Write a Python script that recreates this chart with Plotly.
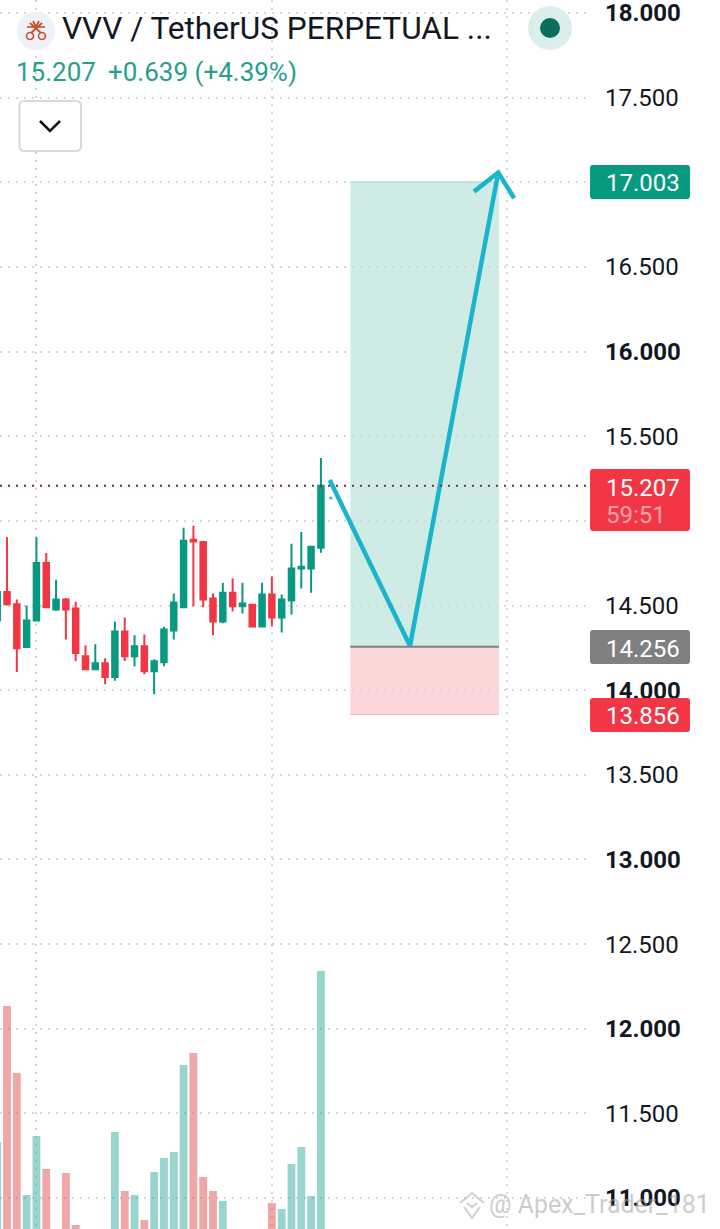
"""VVV / USDT perpetual chart with a long position box and a drawn path."""
import plotly.graph_objects as go

W, H = 720, 1229
PLOT_RIGHT = 590

GREEN = "#089981"
RED = "#F23645"
CYAN = "#1AB5CC"
GRID = "#d6d6d6"

# candles, oldest first
bars = list(range(-1, 33))
opens = [14.412, 14.580, 14.508, 14.255, 14.412, 14.751, 14.476, 14.535, 14.482, 14.200,
         14.124, 14.159, 14.078, 14.347, 14.200, 14.259, 14.112, 14.165, 14.353, 14.490,
         14.888, 14.876, 14.541, 14.406, 14.576, 14.496, 14.504, 14.376, 14.565, 14.429,
         14.529, 14.718, 14.718, 14.841]
highs = [14.590, 14.904, 14.535, 14.500, 14.904, 14.810, 14.653, 14.545, 14.522, 14.265,
         14.271, 14.188, 14.406, 14.429, 14.324, 14.329, 14.182, 14.375, 14.571, 14.959,
         14.971, 14.876, 14.571, 14.635, 14.659, 14.635, 14.506, 14.635, 14.671, 14.565,
         14.865, 14.935, 14.847, 15.371]
lows = [14.400, 14.500, 14.108, 14.255, 14.408, 14.490, 14.467, 14.300, 14.173, 14.120,
        14.118, 14.035, 14.055, 14.173, 14.141, 14.094, 13.976, 14.141, 14.300, 14.500,
        14.496, 14.490, 14.324, 14.396, 14.465, 14.453, 14.376, 14.376, 14.376, 14.341,
        14.447, 14.600, 14.576, 14.812]
closes = [14.580, 14.508, 14.247, 14.412, 14.751, 14.490, 14.535, 14.476, 14.220, 14.124,
          14.159, 14.078, 14.347, 14.200, 14.259, 14.112, 14.171, 14.359, 14.518, 14.882,
          14.878, 14.535, 14.406, 14.576, 14.496, 14.512, 14.376, 14.565, 14.429, 14.535,
          14.718, 14.729, 14.847, 15.207]

# only the tops of the volume bars are in view
volumes = [87, 223, 156, 34, 93, 60, 0, 56, 4, 0, 0, 0, 97, 38, 34, 9, 57, 71, 77, 164,
           176, 52, 38, 28, 0, 0, 0, 0, 26, 20, 65, 82, 33, 258]

price_ticks = [18.0, 17.5, 17.0, 16.5, 16.0, 15.5, 15.0, 14.5, 14.0, 13.5, 13.0, 12.5, 12.0, 11.5, 11.0]
hidden_ticks = [17.0, 15.0]  # covered by the price badges
grid_bars = [3, 27, 51]

last_price = 15.207
entry_price = 14.256
target_price = 17.003
stop_price = 13.856
position_start = 35
position_end = 50.15

path_bars = [32.9, 41.08, 50.0]
path_prices = [15.241, 14.261, 17.035]
head_bars = [47.6, 50.08, 51.7]
head_prices = [16.945, 17.058, 16.906]


def px(x):
    return x / W


def py(y):
    return 1 - y / H


def rounded(x0, y0, x1, y1, r=3):
    # rounded box given in page pixels, returned as a paper path
    a, b, c, d = px(x0), py(y0), px(x1), py(y1)
    rx, ry = r / W, r / H
    return (
        f"M{a + rx},{b} L{c - rx},{b} Q{c},{b} {c},{b - ry} L{c},{d + ry} Q{c},{d} {c - rx},{d} "
        f"L{a + rx},{d} Q{a},{d} {a},{d + ry} L{a},{b - ry} Q{a},{b} {a + rx},{b} Z"
    )


def polyline(points):
    return "M" + " L".join(f"{px(x)},{py(y)}" for x, y in points)


def paper_shape(path, fill="rgba(0,0,0,0)", line=None, width=0):
    return dict(
        type="path", path=path, xref="paper", yref="paper", layer="above",
        fillcolor=fill, line=dict(color=line or "rgba(0,0,0,0)", width=width),
    )


def circle(cx, cy, r, fill="rgba(0,0,0,0)", line=None, width=0):
    return dict(
        type="circle", xref="paper", yref="paper", layer="above",
        x0=px(cx - r), x1=px(cx + r), y0=py(cy + r), y1=py(cy - r),
        fillcolor=fill, line=dict(color=line or "rgba(0,0,0,0)", width=width),
    )


def text(x, y, s, size, color, anchor="left"):
    return dict(
        x=px(x), y=py(y), xref="paper", yref="paper", text=s, showarrow=False,
        xanchor=anchor, yanchor="middle", font=dict(family="Roboto", size=size, color=color),
    )


fig = go.Figure()

vol_colors = ["rgba(38,166,154,0.47)" if c >= o else "rgba(225,80,80,0.5)" for o, c in zip(opens, closes)]
fig.add_trace(go.Bar(x=bars, y=volumes, yaxis="y2", marker=dict(color=vol_colors, line_width=0)))

fig.add_trace(
    go.Candlestick(
        x=bars, open=opens, high=highs, low=lows, close=closes,
        whiskerwidth=0,
        increasing=dict(line=dict(color=GREEN, width=2), fillcolor=GREEN),
        decreasing=dict(line=dict(color=RED, width=2), fillcolor=RED),
    )
)

fig.add_trace(go.Scatter(x=path_bars, y=path_prices, mode="lines", line=dict(color=CYAN, width=4.5)))
fig.add_trace(go.Scatter(x=head_bars, y=head_prices, mode="lines", line=dict(color=CYAN, width=4.5)))
fig.add_trace(go.Scatter(x=[33.0], y=[15.135], mode="markers", marker=dict(color=CYAN, size=3)))

shapes = [
    dict(type="rect", xref="x", yref="y", layer="below", x0=position_start, x1=position_end,
         y0=entry_price, y1=target_price, fillcolor="rgba(8,153,129,0.2)", line=dict(width=0)),
    dict(type="rect", xref="x", yref="y", layer="below", x0=position_start, x1=position_end,
         y0=stop_price, y1=entry_price, fillcolor="rgba(242,54,69,0.2)", line=dict(width=0)),
    dict(type="line", xref="x", yref="y", layer="below", x0=position_start, x1=position_end,
         y0=target_price, y1=target_price, line=dict(color="rgba(8,153,129,0.3)", width=1)),
    dict(type="line", xref="x", yref="y", layer="below", x0=position_start, x1=position_end,
         y0=stop_price, y1=stop_price, line=dict(color="rgba(242,54,69,0.3)", width=1)),
    dict(type="line", xref="x", yref="y", x0=position_start, x1=position_end,
         y0=entry_price, y1=entry_price, line=dict(color="#808080", width=2)),
    dict(type="line", xref="x domain", yref="y", x0=0, x1=1, y0=last_price, y1=last_price,
         line=dict(color="#7d2c38", width=2, dash="2px,6px")),
    # price badges
    paper_shape(rounded(590, 165, 690, 199), GREEN),
    paper_shape(rounded(590, 469, 690, 531), RED),
    paper_shape(rounded(590, 630, 690, 664), "#808080"),
    paper_shape(rounded(590, 698, 690, 732), RED),
    # dropdown button
    paper_shape(rounded(19.5, 101, 81, 151, 5), "#ffffff", "#d9d9d9", 2),
    paper_shape(polyline([(40, 121), (50, 131), (60, 121)]), line="#111111", width=2.5),
    # status dot
    circle(550, 28, 22, "#dceeeb"),
    circle(550, 28, 10, "#0b6e5b"),
    # symbol logo
    circle(36, 31, 19, "#eff1f8"),
    circle(30, 36, 3.5, line="#c8502f", width=1.6),
    circle(42, 36, 3.5, line="#c8502f", width=1.6),
    paper_shape(polyline([(31, 33), (42, 23)]), line="#c8502f", width=1.8),
    paper_shape(polyline([(41, 33), (30, 23)]), line="#c8502f", width=1.8),
    paper_shape(polyline([(27, 27), (45, 27)]), line="#c8502f", width=1.6),
    paper_shape(polyline([(33, 21), (36, 27), (39, 21)]), line="#c8502f", width=1.8),
    # watermark mark
    paper_shape(polyline([(460, 1203), (472, 1193), (484, 1203)]), line="rgba(170,170,170,0.55)", width=2),
    paper_shape(polyline([(464, 1207), (472, 1218), (480, 1207)]), line="rgba(170,170,170,0.55)", width=2),
    paper_shape(polyline([(467, 1203), (472, 1207), (477, 1203)]), line="rgba(170,170,170,0.55)", width=2),
]

annotations = [
    text(60, 29, "VVV / TetherUS PERPETUAL ...", 31.6, "#131722"),
    text(14, 72, "15.207", 26, "#2a9d8b"),
    text(106, 72, "+0.639 (+4.39%)", 26, "#2a9d8b"),
    text(604, 183, "17.003", 24, "#ffffff"),
    text(604, 488, "15.207", 24, "#ffffff"),
    text(604, 515, "59:51", 24, "#fba3ad"),
    text(604, 649, "14.256", 24, "#ffffff"),
    text(604, 716, "13.856", 24, "#ffffff"),
    text(487, 1204, "@ Apex_Trader_181", 25, "rgba(160,160,160,0.55)"),
]

tick_text = [
    "" if p in hidden_ticks else (f"<b>{p:.3f}</b>" if p == int(p) else f"{p:.3f}")
    for p in price_ticks
]

fig.update_layout(
    width=W,
    height=H,
    margin=dict(l=0, r=0, t=0, b=0, autoexpand=False),
    paper_bgcolor="#ffffff",
    plot_bgcolor="#ffffff",
    showlegend=False,
    hovermode=False,
    bargap=0.2,
    boxgap=0.2,
    shapes=shapes,
    annotations=annotations,
    xaxis=dict(
        domain=[0, PLOT_RIGHT / W],
        type="linear",
        range=[-0.714, 59.43],
        rangeslider=dict(visible=False),
        tickmode="array",
        tickvals=grid_bars,
        ticktext=["" for _ in grid_bars],
        showgrid=True,
        gridcolor=GRID,
        griddash="2px,6px",
        gridwidth=2,
        zeroline=False,
        ticks="",
    ),
    yaxis=dict(
        side="right",
        range=[10.817, 18.077],
        tickmode="array",
        tickvals=price_ticks,
        ticktext=tick_text,
        tickfont=dict(family="Roboto", size=24, color="#131722"),
        ticklabelstandoff=14,
        ticklabeloverflow="allow",
        showgrid=True,
        gridcolor=GRID,
        griddash="2px,6px",
        gridwidth=2,
        zeroline=False,
        ticks="",
    ),
    yaxis2=dict(overlaying="y", range=[0, H], visible=False, side="right"),
)

fig.write_html("out.html", post_script="document.body.style.margin='0';", config=dict(displayModeBar=False))
